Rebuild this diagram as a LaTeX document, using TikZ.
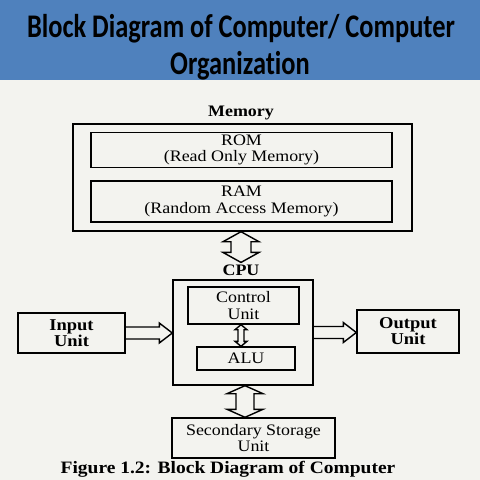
\documentclass[tikz,border=0pt]{standalone}
\usepackage{fontspec}
\setmainfont[FakeStretch=1.12]{Liberation Serif}
\newfontfamily\titlefont[FakeStretch=0.80,Ligatures=NoCommon]{Carlito}
\usetikzlibrary{calc}
\definecolor{bandblue}{RGB}{79,129,189}
\definecolor{paper}{RGB}{243,243,239}
\newcommand\vdarrow[5]{%
  \draw[hollow] let \p1=(#1), \p2=(#2) in
   (\x1,\y1) -- (\x1+#4,\y1-#5) -- (\x1+#3,\y1-#5) -- (\x1+#3,\y2+#5) -- (\x1+#4,\y2+#5)
   -- (\x1,\y2) -- (\x1-#4,\y2+#5) -- (\x1-#3,\y2+#5) -- (\x1-#3,\y1-#5) -- (\x1-#4,\y1-#5) -- cycle;}
\newcommand\hrarrow[5]{%
  \draw[hollow] let \p1=(#1), \p2=(#2) in
   (\x1,\y1+#3) -- (\x2-#5,\y1+#3) -- (\x2-#5,\y1+#4) -- (\x2,\y1) -- (\x2-#5,\y1-#4)
   -- (\x2-#5,\y1-#3) -- (\x1,\y1-#3);}
\begin{document}
\begin{tikzpicture}[x=1pt,y=-1pt,
  box/.style={draw=black,line width=1.4pt,rectangle,inner sep=0pt,align=center,
    font=\fontsize{16}{16.5}\selectfont},
  bbox/.style={box,font=\fontsize{16.5}{16}\selectfont\bfseries},
  lbl/.style={inner sep=1pt,font=\fontsize{16}{16}\selectfont\bfseries},
  ttl/.style={inner sep=0pt,anchor=base,font=\fontsize{33}{37}\selectfont\titlefont\bfseries},
  hollow/.style={draw=black,line width=1.4pt,line join=miter}]
\useasboundingbox (0,0) rectangle (480,480);
\fill[paper] (0,0) rectangle (480,480);
\fill[bandblue] (0,0) rectangle (480,80);
\node[ttl] (title1) at (241,37) {Block Diagram of Computer/ Computer};
\node[ttl] (title2) at (240,74) {Organization};
\node[lbl] (memlabel) at (241,113) {Memory};
\node[box,minimum width=339pt,minimum height=107pt] (mem) at (242.5,177.5) {};
\node[box,minimum width=301pt,minimum height=35pt] (rom) at (241.5,150) {ROM\\(Read Only Memory)};
\node[box,minimum width=301pt,minimum height=41pt] (ram) at (241.5,201.5) {RAM\\(Random Access Memory)};
\node[lbl] (cpulabel) at (241,270) {CPU};
\node[box,minimum width=140pt,minimum height=105pt] (cpu) at (243,332.5) {};
\node[box,minimum width=111pt,minimum height=37pt] (cu) at (243.5,305.5) {Control\\Unit};
\node[box,minimum width=98pt,minimum height=23pt] (alu) at (246,358.5) {ALU};
\node[bbox,minimum width=107pt,minimum height=40pt] (in) at (71.5,333) {Input\\Unit};
\node[bbox,minimum width=102pt,minimum height=43pt] (out) at (408,331.5) {Output\\Unit};
\node[box,minimum width=163pt,minimum height=40pt] (ss) at (253.5,438) {Secondary Storage\\Unit};
\node[lbl,anchor=center,font=\fontsize{17.4}{18}\selectfont\bfseries] (cap) at (228,469) {Figure 1.2: Block Diagram of Computer};
\coordinate (m1) at ($(mem.south)+(-1.5,0)$);
\coordinate (m2) at ($(cpulabel.north)+(0,-1)$);
\vdarrow{m1}{m2}{10pt}{18pt}{10pt}
\coordinate (c1) at ($(cu.south)+(-2.5,0)$);
\vdarrow{c1}{alu.north}{3pt}{6pt}{5pt}
\coordinate (s1) at ($(cpu.south)+(2,0)$);
\vdarrow{s1}{ss.north}{9pt}{18pt}{8pt}
\hrarrow{in.east}{cpu.west}{6pt}{10pt}{13pt}
\hrarrow{cpu.east}{out.west}{6pt}{10pt}{13pt}
\end{tikzpicture}
\end{document}
